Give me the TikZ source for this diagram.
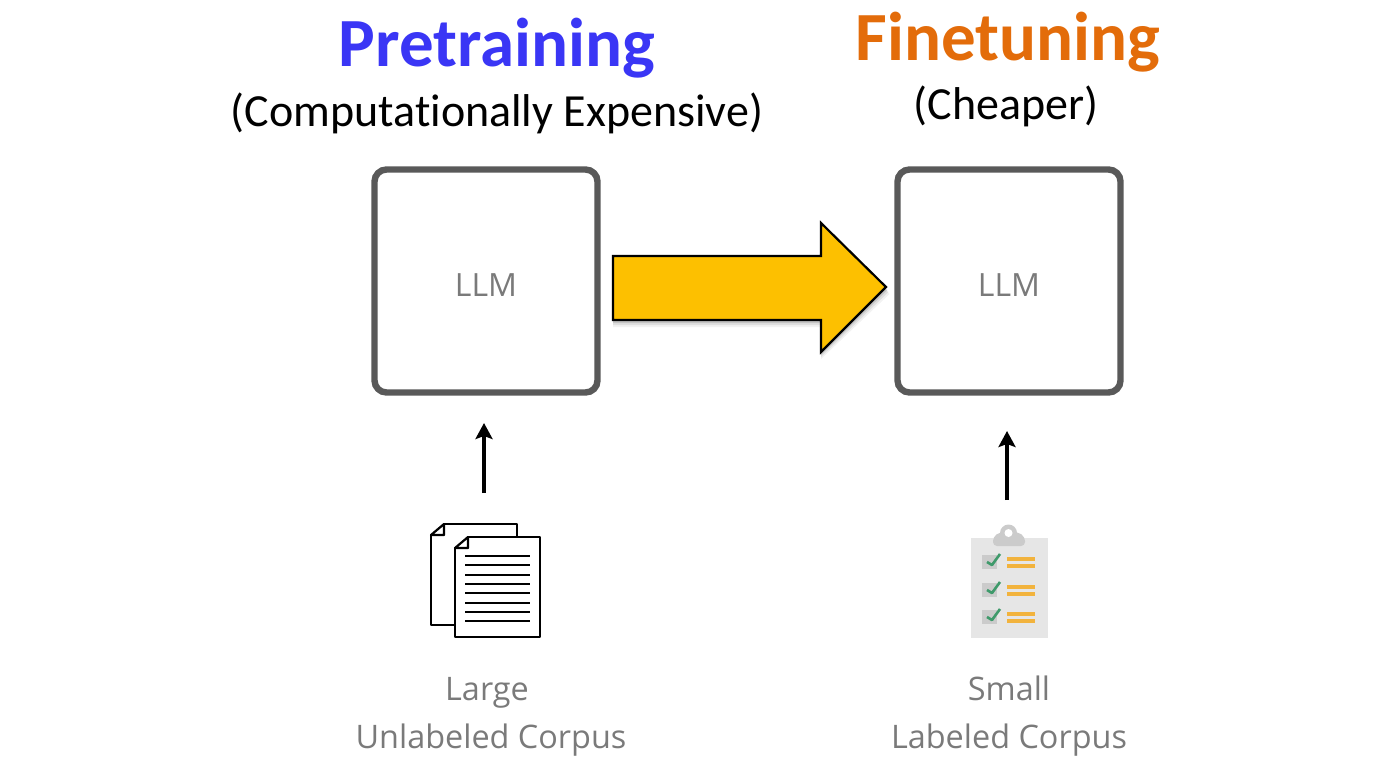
\documentclass[tikz,border=0pt]{standalone}
\usepackage{fontspec}
\setmainfont{Open Sans}
\newfontfamily\cali[Ligatures=CommonOff]{Carlito}
\usetikzlibrary{arrows.meta}
\definecolor{boxgray}{HTML}{595959}
\definecolor{txtgray}{HTML}{7A7A7A}
\definecolor{pretrain}{HTML}{3A36F5}
\definecolor{finetune}{HTML}{E36C0A}
\definecolor{gold}{HTML}{FDC000}
\definecolor{boardbg}{HTML}{E6E6E6}
\definecolor{boardd}{HTML}{CBCBCB}
\definecolor{boardo}{HTML}{F2B33D}
\definecolor{boardg}{HTML}{3F9A6B}
\tikzset{
  llmbox/.style={draw=boxgray,line width=3.2pt,rounded corners=6pt,minimum width=111.5pt,minimum height=111.5pt,fill=white},
  llmtext/.style={text=txtgray,font=\fontsize{16}{20}\selectfont},
  head/.style={font=\cali\bfseries\fontsize{34.5}{40}\selectfont},
  sub/.style={font=\cali\fontsize{23}{28}\selectfont,text=black},
  corpus/.style={text=txtgray,font=\fontsize{16.2}{24}\selectfont,inner sep=0pt,anchor=base},
  uparrow/.style={line width=1.7pt,-{Stealth[length=8pt,width=8.5pt,inset=1.5pt]}},
  paper/.style={draw=black,line width=1.1pt,fill=white,line join=round},
  rule/.style={draw=black,line width=1pt},
  tick/.style={draw=boardg,line width=1.3pt,line join=round},
  orangeline/.style={draw=boardo,line width=1.6pt},
  icon/.style={inner sep=0pt,minimum width=55pt,minimum height=57pt}
}
\begin{document}
\begin{tikzpicture}[x=0.5pt,y=-0.5pt]
\useasboundingbox (0,0) rectangle (1400,771);
\node[head,text=pretrain] (t1) at (497,48) {Pretraining};
\node[head,text=finetune] (t2) at (1008,42) {Finetuning};
\node[sub] (s1) at (497,113) {(Computationally Expensive)};
\node[sub] (s2) at (1006,106) {(Cheaper)};
\node[llmbox] (llm1) at (486,281) {};
\node[llmbox] (llm2) at (1009,281) {};
\node[llmtext] (l1) at (486,285) {LLM};
\node[llmtext] (l2) at (1009,285) {LLM};
% big arrow shadow
\foreach \d/\o in {7/0.05,5/0.08,3/0.12}{
 \fill[black,opacity=\o] (613,{256+\d}) -- (821,{256+\d}) -- (821,{223+\d}) -- ({886+\d/2},{287+\d}) -- (821,{352+\d}) -- (821,{320+\d}) -- (613,{320+\d}) -- cycle;
}
\draw[fill=gold,draw=black,line width=1.1pt,miter limit=10] (613,256) -- (821,256) -- (821,223) -- (886,287) -- (821,352) -- (821,320) -- (613,320) -- cycle;
% documents icon
\node[icon] (docs) at (486,581) {};
\draw[paper] (444,535) -- (431,535) -- (431,625) -- (517,625) -- (517,524) -- (444,524) -- cycle;
\draw[paper] (431,535) -- (444,524) -- (444,535) -- cycle;
\draw[paper] (468,548) -- (455,548) -- (455,637) -- (540,637) -- (540,537) -- (468,537) -- cycle;
\draw[paper] (455,548) -- (468,537) -- (468,548) -- cycle;
\foreach \y in {556,565,575,584,593,603,612,621}{
 \draw[rule] (465,\y) -- (530,\y);
}
% clipboard icon
\node[icon] (clipb) at (1009,588) {};
\fill[boardbg] (971,538) rectangle (1048,638);
\fill[boardd,rounded corners=2pt] (993,537) -- (1000,532) -- (1018,532) -- (1025,537) -- (1025,546) -- (993,546) -- cycle;
\fill[boardd] (1008.5,533) circle (8.5);
\fill[white] (1008.5,533) circle (4);
\foreach \y in {559,587,614}{
 \fill[boardd] (982,{\y-4}) rectangle (997,{\y+10});
 \draw[tick] (987,{\y+3}) -- (992,{\y+6}) -- (1000,{\y-5});
 \draw[orangeline] (1007,\y) -- (1035,\y);
 \draw[orangeline] (1007,{\y+7}) -- (1035,{\y+7});
}
% small arrows
\coordinate (a1) at (484,493);
\coordinate (a2) at (484,423);
\coordinate (b1) at (1007,500);
\coordinate (b2) at (1007,431);
\draw[uparrow] (a1) -- (a2);
\draw[uparrow] (b1) -- (b2);
% labels
\node[corpus] (c1a) at (487,700) {Large};
\node[corpus] (c1b) at (491,748) {Unlabeled Corpus};
\node[corpus] (c2a) at (1009,700) {Small};
\node[corpus] (c2b) at (1009,748) {Labeled Corpus};
\end{tikzpicture}
\end{document}
